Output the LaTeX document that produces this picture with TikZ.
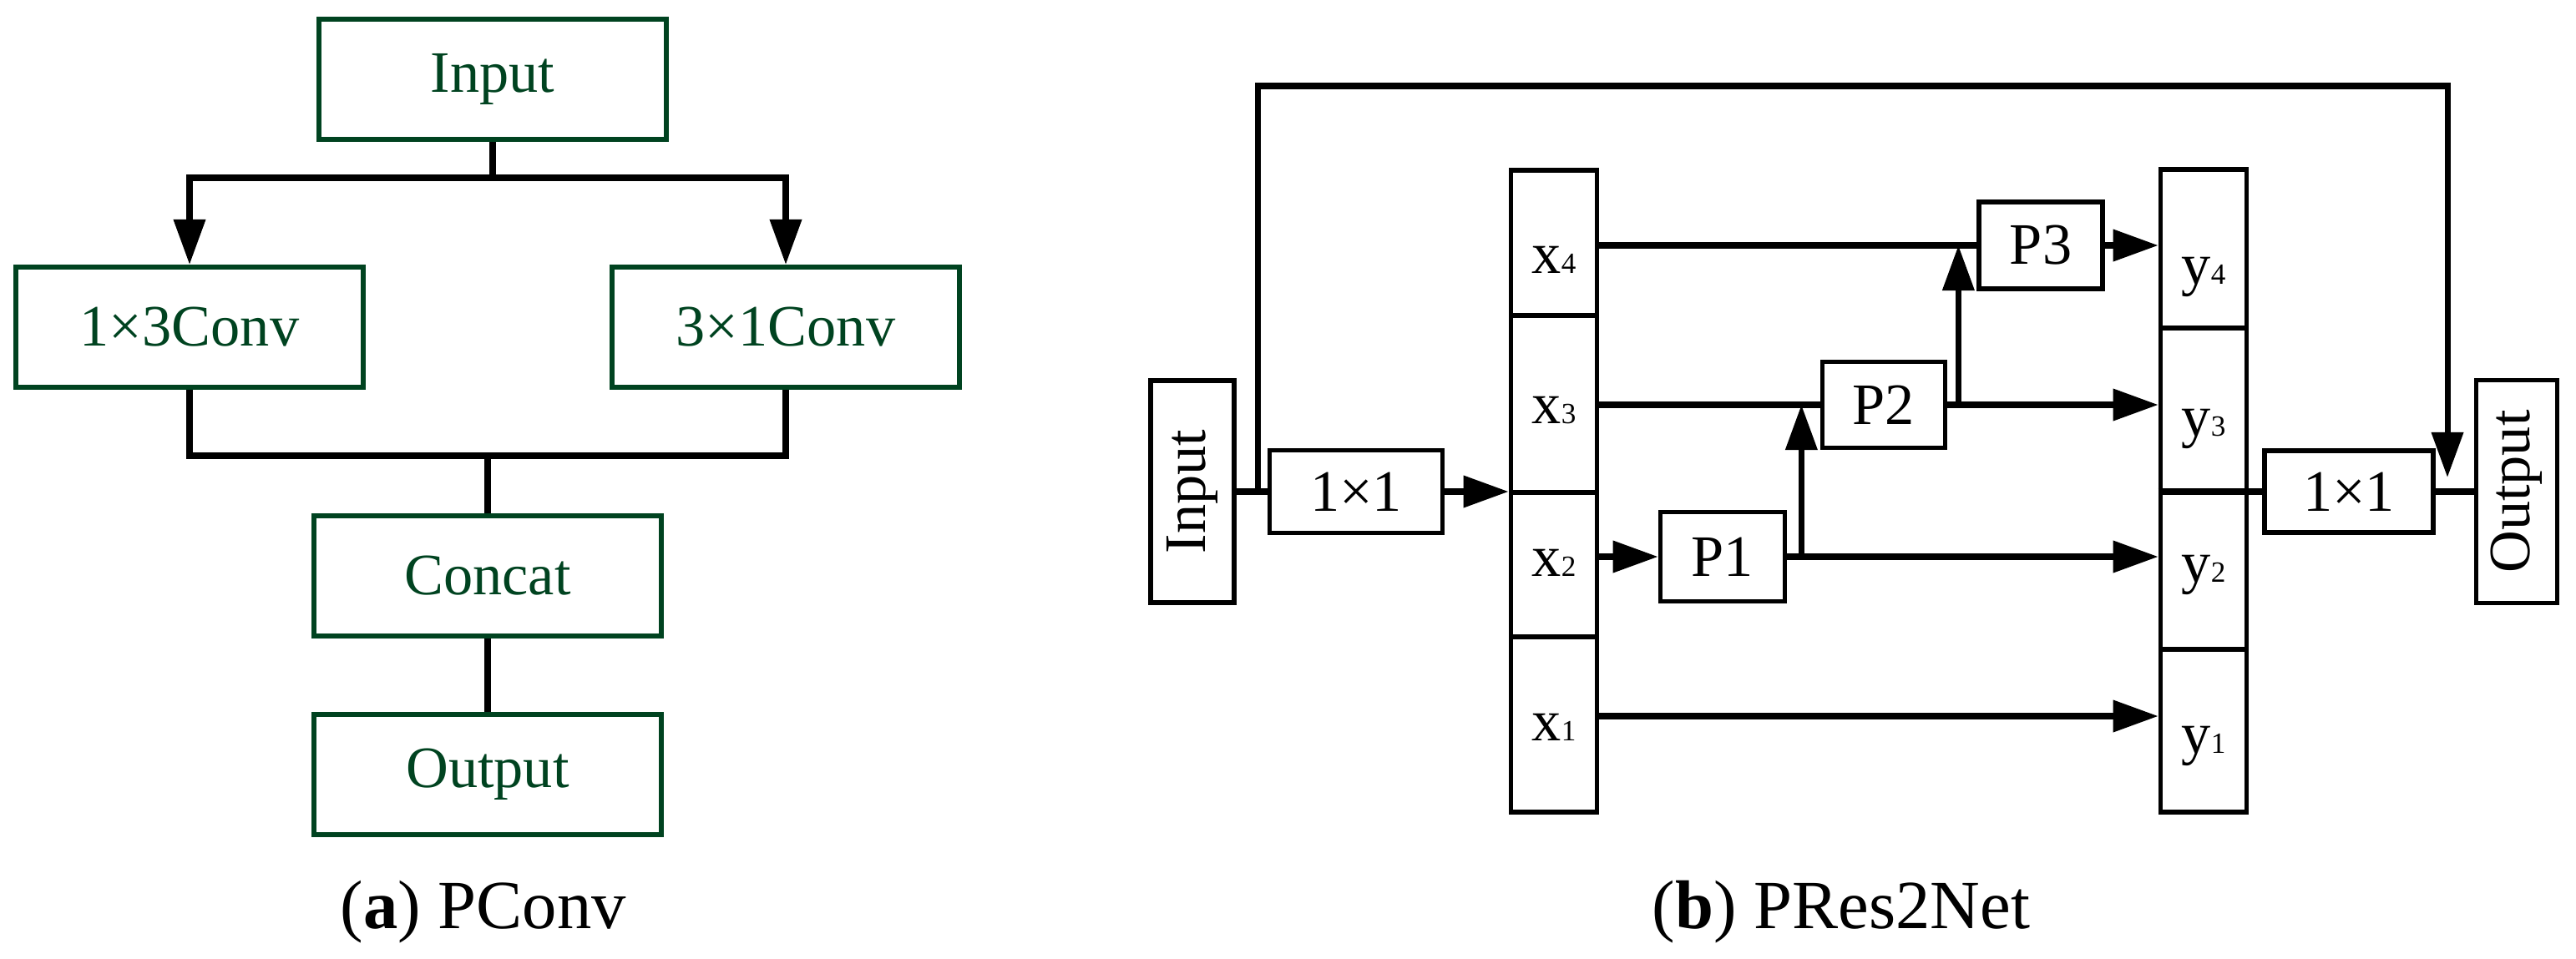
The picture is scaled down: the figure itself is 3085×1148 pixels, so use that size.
\documentclass[tikz,border=0pt]{standalone}
\usepackage{fontspec}
\setmainfont{Liberation Serif}
\usepackage{graphicx}
\usetikzlibrary{arrows.meta,calc}

\definecolor{boxgreen}{RGB}{0,67,32}
\newcommand{\sidx}[1]{{\fontsize{10}{12}\selectfont #1}}

\tikzset{
  gbox/.style={draw=boxgreen, text=boxgreen, line width=1.7pt, minimum width=4.16cm, minimum height=1.44cm, inner sep=0pt, font=\fontsize{20}{24}\selectfont},
  pbox/.style={draw, line width=1.6pt, inner sep=0pt, font=\fontsize{20}{24}\selectfont},
  seg/.style={pbox, minimum width=1.03cm, text depth=0pt},
  wire/.style={line width=2pt},
  arr/.style={line width=2pt, -{Triangle[length=0.54cm,width=0.37cm]}},
  caption/.style={anchor=base, font=\fontsize{23.5}{28}\selectfont}
}

\begin{document}
\begin{tikzpicture}[x=0.01cm,y=-0.01cm]
\useasboundingbox (0,0) rectangle (3085,1148);

% (a) PConv
\node[gbox] (inA) at (590,95) {Input};
\node[gbox] (c13) at (227,392) {1×3Conv};
\node[gbox] (c31) at (941,392) {3×1Conv};
\node[gbox] (cat) at (584,690) {Concat};
\node[gbox] (outA) at (584,928) {Output};

\coordinate (split) at (590,213);
\coordinate (join) at (584,546);
\draw[wire] (inA) -- (split);
\draw[arr] (split) -| (c13);
\draw[arr] (split) -| (c31);
\draw[wire] (c13) |- (join) -| (c31);
\draw[wire] (join) -- (cat);
\draw[wire] (cat) -- (outA);

\node[caption] (capA) at (579,1112) {(\textbf{a}) PConv};

% (b) PRes2Net
\node[pbox, minimum width=1cm, minimum height=2.66cm] (inB) at (1428,589) {\rotatebox{90}{Input}};
\node[pbox, minimum width=2.07cm, minimum height=0.99cm] (pre) at (1624,589) {1×1};

% split x
\node[seg, minimum height=1.74cm, text height=0.72cm] (x4) at (1861,291) {x\sidx{4}};
\node[seg, minimum height=2.12cm, text height=0.46cm] (x3) at (1861,484) {x\sidx{3}};
\node[seg, minimum height=1.73cm, text height=0.27cm] (x2) at (1861,676.5) {x\sidx{2}};
\node[seg, minimum height=2.10cm, text height=0.38cm] (x1) at (1861,868) {x\sidx{1}};

\node[pbox, minimum width=1.49cm, minimum height=1.07cm] (P1) at (2063,667) {P1};
\node[pbox, minimum width=1.47cm, minimum height=1.03cm] (P2) at (2256,485) {P2};
\node[pbox, minimum width=1.48cm, minimum height=1.04cm] (P3) at (2444,294) {P3};

% merged y
\node[seg, minimum height=1.90cm, text height=0.84cm] (y4) at (2639,298) {y\sidx{4}};
\node[seg, minimum height=1.95cm, text height=0.63cm] (y3) at (2639,490.5) {y\sidx{3}};
\node[seg, minimum height=1.90cm, text height=0.28cm] (y2) at (2639,683) {y\sidx{2}};
\node[seg, minimum height=1.95cm, text height=0.53cm] (y1) at (2639,875.5) {y\sidx{1}};

\node[pbox, minimum width=2.02cm, minimum height=0.98cm] (post) at (2813,589) {1×1};
\node[pbox, minimum width=0.97cm, minimum height=2.67cm] (outB) at (3014,589) {\rotatebox{90}{Output}};

\coordinate (fb) at (1506,589);
\coordinate (fbtop) at (1506,103);
\coordinate (fbtip) at (2931,572);
\coordinate (row1) at (1900,858);

\draw[wire] (inB) -- (pre);
\draw[arr] (pre) -- (pre -| x2.west);
\draw[arr] (fb) -- (fbtop) -| (fbtip);

\draw[wire] (x4.east |- P3) -- (P3);
\draw[wire] (x3.east |- P2) -- (P2);
\draw[arr] (x2.east |- P1) -- (P1);
\draw[arr] (x1.east |- row1) -- (y1.west |- row1);

\draw[arr] (P1) -- (y2.west |- P1);
\draw[arr] (P2) -- (y3.west |- P2);
\draw[arr] (P3) -- (y4.west |- P3);

\coordinate (j1) at ($(P1.east)+(17,0)$);
\coordinate (j2) at ($(P2.east)+(13,0)$);
\draw[arr] (j1) -- (j1 |- P2);
\draw[arr] (j2) -- (j2 |- P3);

\draw[wire] (post -| y2.west) -- (post);
\draw[wire] (post) -- (outB);

\node[caption] (capB) at (2205,1112) {(\textbf{b}) PRes2Net};
\end{tikzpicture}
\end{document}
